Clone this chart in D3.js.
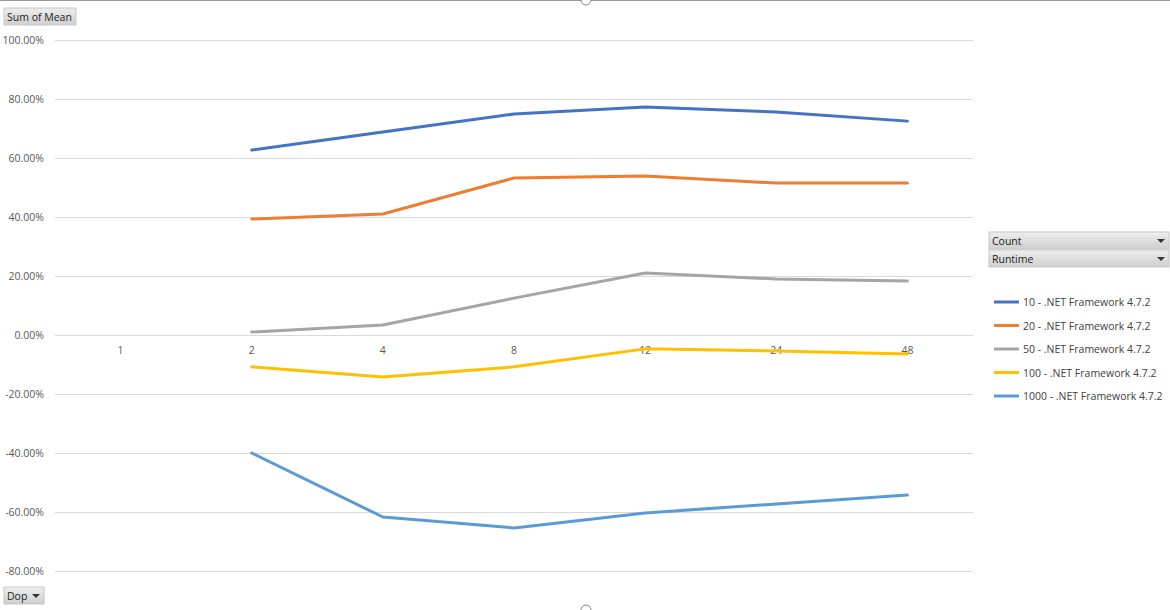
<!DOCTYPE html>
<html><head><meta charset="utf-8">
<script src="https://cdn.jsdelivr.net/npm/d3@7"></script>
<style>body{margin:0;background:#fff;font-family:"Segoe UI","Open Sans",Arial,sans-serif}</style>
</head><body>
<script>
const categories = ["1", "2", "4", "8", "12", "24", "48"];
const seriesNames = ["10 - .NET Framework 4.7.2", "20 - .NET Framework 4.7.2", "50 - .NET Framework 4.7.2", "100 - .NET Framework 4.7.2", "1000 - .NET Framework 4.7.2"];
const s10 = [null, 62.7, 68.8, 74.9, 77.3, 75.6, 72.5];
const s20 = [null, 39.3, 41.0, 53.2, 53.9, 51.5, 51.5];
const s50 = [null, 1.0, 3.4, 12.5, 21.0, 19.0, 18.3];
const s100 = [null, -10.8, -14.2, -10.8, -4.7, -5.4, -6.4];
const s1000 = [null, -40.0, -61.7, -65.4, -60.3, -57.3, -54.2];
const yTicks = [100, 80, 60, 40, 20, 0, -20, -40, -60, -80];
const colors = ["#4472C4", "#ED7D31", "#A5A5A5", "#FFC000", "#5B9BD5"];
const allSeries = [s10, s20, s50, s100, s1000];

const width = 1170, height = 610;
const svg = d3.select("body").append("svg").attr("width", width).attr("height", height);

const x = d3.scaleBand().domain(categories).range([55, 973]);
const y = d3.scaleLinear().domain([-80, 100]).range([571, 40]);

// border + handles
svg.append("line").attr("x1", 0).attr("x2", width).attr("y1", 0.5).attr("y2", 0.5).attr("stroke", "#999");
svg.append("circle").attr("cx", 586).attr("cy", 0).attr("r", 5).attr("fill", "#fff").attr("stroke", "#888");
svg.append("circle").attr("cx", 586).attr("cy", 610).attr("r", 5).attr("fill", "#fff").attr("stroke", "#888");

// gridlines
svg.selectAll(".grid").data(yTicks).enter().append("line")
  .attr("x1", 55).attr("x2", 973)
  .attr("y1", d => Math.round(y(d)) + 0.5).attr("y2", d => Math.round(y(d)) + 0.5)
  .attr("stroke", "#d9d9d9");

svg.selectAll(".ylab").data(yTicks).enter().append("text")
  .attr("x", 44).attr("y", d => y(d) + 4).attr("text-anchor", "end")
  .attr("font-size", 10.5).attr("fill", "#595959")
  .text(d => d.toFixed(2) + "%");

svg.selectAll(".xlab").data(categories).enter().append("text")
  .attr("x", d => x(d) + x.bandwidth() / 2).attr("y", y(0) + 19).attr("text-anchor", "middle")
  .attr("font-size", 10.5).attr("fill", "#595959").text(d => d);

const line = d3.line()
  .defined(d => d != null)
  .x((d, i) => x(categories[i]) + x.bandwidth() / 2)
  .y(d => y(d));

allSeries.forEach((s, i) => {
  svg.append("path").datum(s).attr("d", line)
    .attr("fill", "none").attr("stroke", colors[i]).attr("stroke-width", 3)
    .attr("stroke-linejoin", "round").attr("stroke-linecap", "round");
});

// field buttons
const defs = svg.append("defs").append("linearGradient").attr("id", "btn").attr("x1", 0).attr("x2", 0).attr("y1", 0).attr("y2", 1);
defs.append("stop").attr("offset", 0).attr("stop-color", "#eeeeee");
defs.append("stop").attr("offset", 1).attr("stop-color", "#cfcfcf");

function button(xp, yp, w, label, arrow) {
  const g = svg.append("g").attr("transform", `translate(${xp},${yp})`);
  g.append("rect").attr("width", w).attr("height", 17).attr("fill", "url(#btn)").attr("stroke", "#c8c8c8");
  g.append("text").attr("x", 3).attr("y", 12.5).attr("font-size", 10.5).attr("fill", "#222").text(label);
  if (arrow) g.append("path").attr("d", `M${w - 12},7 L${w - 4},7 L${w - 8},11 Z`).attr("fill", "#333");
}

button(4, 8, 72, "Sum of Mean", false);
button(4, 587, 40, "Dop", true);
button(989, 232, 180, "Count", true);
button(989, 250, 180, "Runtime", true);

// legend
const leg = svg.append("g");
seriesNames.forEach((n, i) => {
  const yy = 302 + i * 23.5;
  leg.append("line").attr("x1", 994).attr("x2", 1019).attr("y1", yy).attr("y2", yy)
    .attr("stroke", colors[i]).attr("stroke-width", 3);
  leg.append("text").attr("x", 1023).attr("y", yy + 4).attr("font-size", 10.5).attr("fill", "#404040").text(n);
});
</script>
</body></html>
